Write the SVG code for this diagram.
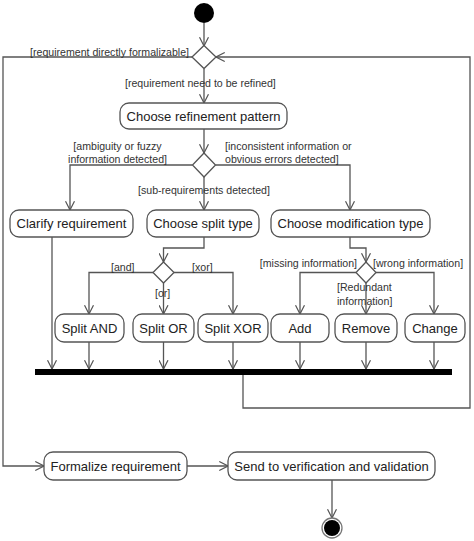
<svg xmlns="http://www.w3.org/2000/svg" width="474" height="541" viewBox="0 0 474 541">
<style>
.box{fill:#fff;stroke:#555;stroke-width:1.3}
.dia{fill:#fff;stroke:#555;stroke-width:1.3}
.bt{font-family:"Liberation Sans",Arial,sans-serif;font-size:13px;fill:#222;text-anchor:middle}
.lb{font-family:"Liberation Sans",Arial,sans-serif;font-size:10.6px;fill:#333}
.ln{fill:none;stroke:#555;stroke-width:1.3;marker-end:url(#arr)}
.ln2{fill:none;stroke:#555;stroke-width:1.3}
</style>
<defs>
<marker id="arr" viewBox="0 0 10 10" refX="9.3" refY="5" markerWidth="10" markerHeight="10" markerUnits="userSpaceOnUse" orient="auto">
<path d="M0.5,0.5 L9.3,5 L0.5,9.5" fill="none" stroke="#555" stroke-width="1.2"/>
</marker>
</defs>
<rect width="474" height="541" fill="#fff"/>
<g id="connectors">
<path class="ln" d="M204,23 L204,46"/>
<path class="ln" d="M192,57 L3,57 L3,466 L44,466"/>
<path class="ln" d="M204,69 L204,103"/>
<path class="ln" d="M204,129 L204,153"/>
<path class="ln" d="M192.5,165 L70,165 L70,210"/>
<path class="ln" d="M204,177 L204,210"/>
<path class="ln" d="M215.5,165 L350,165 L350,210"/>
<path class="ln" d="M52,237 L52,369"/>
<path class="ln" d="M204,237 L204,248 L163.5,248 L163.5,262"/>
<path class="ln" d="M153,272.5 L89,272.5 L89,314"/>
<path class="ln" d="M163.5,283 L163.5,314"/>
<path class="ln" d="M174,272.5 L233,272.5 L233,314"/>
<path class="ln" d="M350,237 L350,248 L366,248 L366,262"/>
<path class="ln" d="M356,272.5 L300,272.5 L300,314"/>
<path class="ln" d="M366,283 L366,314"/>
<path class="ln" d="M376,272.5 L434,272.5 L434,314"/>
<path class="ln" d="M89,342 L89,369"/>
<path class="ln" d="M163.5,342 L163.5,369"/>
<path class="ln" d="M233,342 L233,369"/>
<path class="ln" d="M300,342 L300,369"/>
<path class="ln" d="M366,342 L366,369"/>
<path class="ln" d="M434,342 L434,369"/>
<path class="ln" d="M243,375 L243,408 L470,408 L470,57 L216,57"/>
<path class="ln" d="M187,466 L228,466"/>
<path class="ln" d="M332,480 L332,518"/>
</g>
<g id="start"><circle cx="204" cy="13" r="10" fill="#000"/></g>
<g id="decision1"><polygon class="dia" points="204,45.5 216,57 204,68.5 192,57"/>
<text class="lb" x="189" y="55.5" text-anchor="end">[requirement directly formalizable]</text>
<text class="lb" x="125" y="87">[requirement need to be refined]</text></g>
<g id="refinement"><rect class="box" x="120" y="103" width="167" height="26" rx="9"/><text class="bt" x="203.5" y="120.5">Choose refinement pattern</text></g>
<g id="decision2"><polygon class="dia" points="204,153 215.5,165 204,177 192.5,165"/>
<text class="lb" x="117.5" y="149.5" text-anchor="middle">[ambiguity or fuzzy</text>
<text class="lb" x="117.5" y="162.5" text-anchor="middle">information detected]</text>
<text class="lb" x="225" y="149.5">[inconsistent information or</text>
<text class="lb" x="225" y="162.5">obvious errors detected]</text>
<text class="lb" x="138" y="193.5">[sub-requirements detected]</text></g>
<g id="clarify"><rect class="box" x="10" y="210" width="123" height="27" rx="9"/><text class="bt" x="71.5" y="227.5">Clarify requirement</text></g>
<g id="splittype"><rect class="box" x="147" y="210" width="112" height="27" rx="9"/><text class="bt" x="203" y="227.5">Choose split type</text></g>
<g id="modtype"><rect class="box" x="271" y="210" width="159" height="27" rx="9"/><text class="bt" x="350.5" y="227.5">Choose modification type</text></g>
<g id="decision3"><polygon class="dia" points="163.5,262 174,272.5 163.5,283 153,272.5"/>
<text class="lb" x="111" y="270.5">[and]</text>
<text class="lb" x="192" y="270.5">[xor]</text>
<text class="lb" x="155" y="296.5">[or]</text></g>
<g id="decision4"><polygon class="dia" points="366,262 376,272.5 366,283 356,272.5"/>
<text class="lb" x="357" y="266.5" text-anchor="end">[missing information]</text>
<text class="lb" x="373" y="266.5">[wrong information]</text>
<text class="lb" x="337" y="290.5">[Redundant</text>
<text class="lb" x="337" y="304.5">information]</text></g>
<g id="splitand"><rect class="box" x="55" y="314" width="69" height="28" rx="9"/><text class="bt" x="89.5" y="332.5">Split AND</text></g>
<g id="splitor"><rect class="box" x="133" y="314" width="61" height="28" rx="9"/><text class="bt" x="163.5" y="332.5">Split OR</text></g>
<g id="splitxor"><rect class="box" x="198" y="314" width="70" height="28" rx="9"/><text class="bt" x="233" y="332.5">Split XOR</text></g>
<g id="add"><rect class="box" x="271" y="314" width="58" height="28" rx="9"/><text class="bt" x="300" y="332.5">Add</text></g>
<g id="remove"><rect class="box" x="335" y="314" width="62" height="28" rx="9"/><text class="bt" x="366" y="332.5">Remove</text></g>
<g id="change"><rect class="box" x="405" y="314" width="60" height="28" rx="9"/><text class="bt" x="435" y="332.5">Change</text></g>
<g id="join"><rect x="35" y="369" width="417" height="6" fill="#000"/></g>
<g id="formalize"><rect class="box" x="44" y="452" width="143" height="28" rx="9"/><text class="bt" x="115.5" y="470.5">Formalize requirement</text></g>
<g id="send"><rect class="box" x="228" y="452" width="207" height="28" rx="9"/><text class="bt" x="331.5" y="470.5">Send to verification and validation</text></g>
<g id="end"><circle cx="332" cy="528" r="10" fill="#fff" stroke="#777" stroke-width="1.3"/><circle cx="332" cy="528" r="8" fill="#000"/></g>
</svg>
